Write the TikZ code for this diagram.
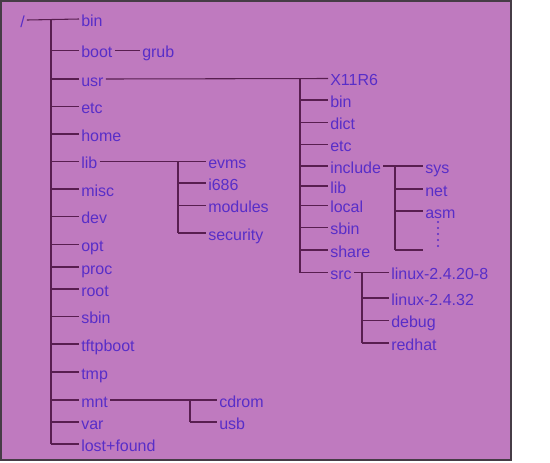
\documentclass[tikz,border=0pt]{standalone}
\usepackage{fontspec}
\setmainfont{Liberation Sans}
\usetikzlibrary{positioning}
\definecolor{dirbg}{RGB}{191,122,191}
\definecolor{dirtext}{RGB}{88,46,200}
\definecolor{dirline}{RGB}{88,30,80}
\definecolor{dirframe}{RGB}{70,60,70}
\begin{document}
\begin{tikzpicture}[x=0.75pt, y=-0.75pt,
    dir/.style={anchor=west, inner xsep=1.5pt, inner ysep=0pt, text height=10.8pt, text depth=0pt,
      text=dirtext, font=\fontsize{12}{14}\selectfont},
    branch/.style={draw=dirline, line width=0.8pt}]
  \useasboundingbox (0,0) rectangle (550,462);
  \draw[fill=dirbg, draw=dirframe, line width=1.2pt] (1,1) rectangle (511,460);
  % root and its children
  \node[dir] (rootdir) at (18,20) {/};
  \foreach \name/\txt/\y in {bin/bin/19, boot/boot/50.5, usr/usr/79, etc/etc/106.5, home/home/134,
      lib/lib/161.5, misc/misc/189, dev/dev/216.5, opt/opt/244.5, proc/proc/267, root/root/289,
      sbin/sbin/316.5, tftpboot/tftpboot/344, tmp/tmp/372, mnt/mnt/400, var/var/422,
      lostfound/lost+found/444}
    \node[dir] (\name) at (79,\y) {\txt};
  \coordinate (roottrunk) at (51,19);
  \draw[branch] (rootdir.east) -- (bin.west);
  \draw[branch] (roottrunk) -- (roottrunk |- lostfound.west);
  \foreach \name in {boot,usr,etc,home,lib,misc,dev,opt,proc,root,sbin,tftpboot,tmp,mnt,var,lostfound}
    \draw[branch] (roottrunk |- \name.west) -- (\name.west);
  % boot
  \node[dir] (grub) at (140,50.5) {grub};
  \draw[branch] (boot.east) -- (grub.west);
  % lib
  \foreach \name/\txt/\y in {evms/evms/161.5, iarch/i686/183, modules/modules/205.5, security/security/233}
    \node[dir] (\name) at (206,\y) {\txt};
  \coordinate (libtrunk) at (178,161.5);
  \draw[branch] (lib.east) -- (evms.west);
  \draw[branch] (libtrunk) -- (libtrunk |- security.west);
  \foreach \name in {iarch,modules,security}
    \draw[branch] (libtrunk |- \name.west) -- (\name.west);
  % usr
  \foreach \name/\txt/\y in {xorg/X11R6/78.5, ubin/bin/100, dict/dict/122.5, uetc/etc/144.5,
      include/include/166, ulib/lib/186, local/local/205.5, usbin/sbin/227.5, share/share/250,
      src/src/272.5}
    \node[dir] (\name) at (328,\y) {\txt};
  \coordinate (usrtrunk) at (300,78.5);
  \draw[branch] (usr.east) -- (xorg.west);
  \draw[branch] (usrtrunk) -- (usrtrunk |- src.west);
  \foreach \name in {ubin,dict,uetc,include,ulib,local,usbin,share,src}
    \draw[branch] (usrtrunk |- \name.west) -- (\name.west);
  % include
  \foreach \name/\txt/\y in {sys/sys/166, net/net/189, asm/asm/211}
    \node[dir] (\name) at (423,\y) {\txt};
  \coordinate (inctrunk) at (395,166);
  \coordinate (incmore) at (423,250);
  \draw[branch] (include.east) -- (sys.west);
  \draw[branch] (inctrunk) -- (inctrunk |- incmore);
  \foreach \name in {net,asm}
    \draw[branch] (inctrunk |- \name.west) -- (\name.west);
  \draw[branch] (inctrunk |- incmore) -- (incmore);
  \foreach \d in {222,228,234,240,246}
    \fill[dirtext] (438,\d) circle (0.9pt);
  % src
  \foreach \name/\txt/\y in {linuxa/linux-2.4.20-8/272.5, linuxb/linux-2.4.32/298, debug/debug/320.5,
      redhat/redhat/343}
    \node[dir] (\name) at (389,\y) {\txt};
  \coordinate (srctrunk) at (362,272.5);
  \draw[branch] (src.east) -- (linuxa.west);
  \draw[branch] (srctrunk) -- (srctrunk |- redhat.west);
  \foreach \name in {linuxb,debug,redhat}
    \draw[branch] (srctrunk |- \name.west) -- (\name.west);
  % mnt
  \foreach \name/\txt/\y in {cdrom/cdrom/400, usb/usb/422}
    \node[dir] (\name) at (217,\y) {\txt};
  \coordinate (mnttrunk) at (190,400);
  \draw[branch] (mnt.east) -- (cdrom.west);
  \draw[branch] (mnttrunk) -- (mnttrunk |- usb.west);
  \draw[branch] (mnttrunk |- usb.west) -- (usb.west);
\end{tikzpicture}
\end{document}
